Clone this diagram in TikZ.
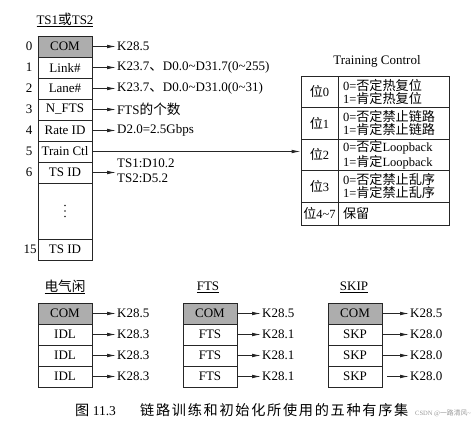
\documentclass[tikz,border=0pt]{standalone}
\usepackage{fontspec}
\setmainfont{Liberation Serif}
\newfontfamily\cjk[Scale=1.05]{Noto Sans CJK SC}
\newcommand\zh[1]{{\cjk #1}}
\newcommand\tld{\textasciitilde}
\usetikzlibrary{arrows.meta}
\begin{document}
\begin{tikzpicture}[x=1pt,y=-1pt,
  cell/.style={draw=black!85, line width=0.8pt, minimum width=54pt, minimum height=21pt, inner sep=0pt, font=\fontsize{13}{14}\selectfont},
  com/.style={cell, fill=black!32},
  lbl/.style={anchor=west, inner sep=0pt, font=\fontsize{13}{14}\selectfont},
  num/.style={inner sep=0pt, font=\fontsize{13}{14}\selectfont},
  ttl/.style={inner sep=0pt, font=\fontsize{13}{14}\selectfont},
  arr/.style={draw=black!85, line width=0.8pt, -{Latex[length=9pt,width=3.6pt]}, shorten <=1pt, shorten >=1pt},
  tcell/.style={draw=black!85, line width=0.8pt, inner sep=0pt, minimum height=31.5pt, font=\fontsize{12.5}{13}\selectfont},
  ta/.style={tcell, minimum width=37pt},
  tb/.style={tcell, minimum width=111pt, text width=101pt, inner xsep=5pt, align=left},
  dot/.style={fill=black!85, draw=none},
]
\useasboundingbox[fill=white] (0,0) rectangle (474,427);

% ---- TS1 / TS2 column ----
\node[ttl] (ttl1) at (65,20) {\underline{TS1\zh{或}TS2}};
\node[com]  (c0) at (65,46.5)  {COM};
\node[cell] (c1) at (65,67.5)  {Link\#};
\node[cell] (c2) at (65,88.5)  {Lane\#};
\node[cell] (c3) at (65,109.5) {N\_FTS};
\node[cell] (c4) at (65,130.5) {Rate ID};
\node[cell] (c5) at (65,151.5) {Train Ctl};
\node[cell] (c6) at (65,172.5) {TS ID};
\node[cell, minimum height=56pt] (cd) at (65,211) {};
\fill[dot] (cd.center) ++(0,-5.5) circle (0.9);
\fill[dot] (cd.center) circle (0.9);
\fill[dot] (cd.center) ++(0,5.5) circle (0.9);
\node[cell] (c15) at (65,249.5) {TS ID};

\node[num] (n0) at (29,46.5) {0};
\node[num] (n1) at (29,67.5) {1};
\node[num] (n2) at (29,88.5) {2};
\node[num] (n3) at (29,109.5) {3};
\node[num] (n4) at (29,130.5) {4};
\node[num] (n5) at (29,151.5) {5};
\node[num] (n6) at (29,172.5) {6};
\node[num] (n15) at (30,249.5) {15};

\node[lbl] (t0) at (117,46.5) {K28.5};
\node[lbl] (t1) at (117,67.5) {K23.7\zh{、}D0.0\tld D31.7(0\tld 255)};
\node[lbl] (t2) at (117,88.5) {K23.7\zh{、}D0.0\tld D31.0(0\tld 31)};
\node[lbl] (t3) at (117,109.5) {FTS\zh{的个数}};
\node[lbl] (t4) at (117,130.5) {D2.0=2.5Gbps};
\node[lbl, align=left, font=\fontsize{13}{14.5}\selectfont] (t6) at (117,171) {TS1:D10.2\\TS2:D5.2};

\draw[arr] (c0.east) -- (t0.west);
\draw[arr] (c1.east) -- (t1.west);
\draw[arr] (c2.east) -- (t2.west);
\draw[arr] (c3.east) -- (t3.west);
\draw[arr] (c4.east) -- (t4.west);
\draw[arr] (c6.east) -- (c6.east -| t6.west);

% ---- Training Control ----
\node[ttl] (ttc) at (377,61) {Training Control};
\node[ta] (ta0) at (319.5,91.75)  {\zh{位}0};
\node[ta] (ta1) at (319.5,123.25) {\zh{位}1};
\node[ta] (ta2) at (319.5,154.75) {\zh{位}2};
\node[ta] (ta3) at (319.5,186.25) {\zh{位}3};
\node[ta, minimum height=23pt] (ta4) at (319.5,213.5) {\zh{位}4\tld 7};
\node[tb] (tb0) at (393.5,91.75)  {0=\zh{否定热复位}\\1=\zh{肯定热复位}};
\node[tb] (tb1) at (393.5,123.25) {0=\zh{否定禁止链路}\\1=\zh{肯定禁止链路}};
\node[tb] (tb2) at (393.5,154.75) {0=\zh{否定}Loopback\\1=\zh{肯定}Loopback};
\node[tb] (tb3) at (393.5,186.25) {0=\zh{否定禁止乱序}\\1=\zh{肯定禁止乱序}};
\node[tb, minimum height=23pt] (tb4) at (393.5,213.5) {\zh{保留}};

\draw[arr, shorten >=0pt] (c5.east) -- (c5.east -| ta2.west);

% ---- Electrical idle ----
\node[ttl] (ttl2) at (65,287) {\underline{\zh{电气闲}}};
\node[com]  (e0) at (65,313.5) {COM};
\node[cell] (e1) at (65,334.5) {IDL};
\node[cell] (e2) at (65,355.5) {IDL};
\node[cell] (e3) at (65,376.5) {IDL};
\node[lbl] (et0) at (117,313.5) {K28.5};
\node[lbl] (et1) at (117,334.5) {K28.3};
\node[lbl] (et2) at (117,355.5) {K28.3};
\node[lbl] (et3) at (117,376.5) {K28.3};
\draw[arr] (e0.east) -- (et0.west);
\draw[arr] (e1.east) -- (et1.west);
\draw[arr] (e2.east) -- (et2.west);
\draw[arr] (e3.east) -- (et3.west);

% ---- FTS ----
\node[ttl] (ttl3) at (208,287) {\underline{FTS}};
\node[com]  (f0) at (210,313.5) {COM};
\node[cell] (f1) at (210,334.5) {FTS};
\node[cell] (f2) at (210,355.5) {FTS};
\node[cell] (f3) at (210,376.5) {FTS};
\node[lbl] (ft0) at (262,313.5) {K28.5};
\node[lbl] (ft1) at (262,334.5) {K28.1};
\node[lbl] (ft2) at (262,355.5) {K28.1};
\node[lbl] (ft3) at (262,376.5) {K28.1};
\draw[arr] (f0.east) -- (ft0.west);
\draw[arr] (f1.east) -- (ft1.west);
\draw[arr] (f2.east) -- (ft2.west);
\draw[arr] (f3.east) -- (ft3.west);

% ---- SKIP ----
\node[ttl] (ttl4) at (354,287) {\underline{SKIP}};
\node[com]  (s0) at (355,313.5) {COM};
\node[cell] (s1) at (355,334.5) {SKP};
\node[cell] (s2) at (355,355.5) {SKP};
\node[cell] (s3) at (355,376.5) {SKP};
\node[lbl] (st0) at (410,313.5) {K28.5};
\node[lbl] (st1) at (410,334.5) {K28.0};
\node[lbl] (st2) at (410,355.5) {K28.0};
\node[lbl] (st3) at (410,376.5) {K28.0};
\draw[arr] (s0.east) -- (st0.west);
\draw[arr] (s1.east) -- (st1.west);
\draw[arr] (s2.east) -- (st2.west);
\draw[arr, shorten <=5pt] (s3.east) -- (st3.west);

% ---- caption ----
\node[anchor=west, inner sep=0pt, font=\fontsize{13.5}{15}\selectfont] (capn) at (75,410) {\zh{图}\ 11.3};
\node[anchor=west, inner sep=0pt, font=\fontsize{13.5}{15}\selectfont\cjk\addfontfeature{LetterSpace=12}] (capt) at (140,410) {链路训练和初始化所使用的五种有序集};
\node[anchor=west, inner sep=0pt, text=black!40, font=\fontsize{6.5}{7}\selectfont] (wm) at (415,413) {CSDN @\zh{一路清风}\tld};
\end{tikzpicture}
\end{document}
